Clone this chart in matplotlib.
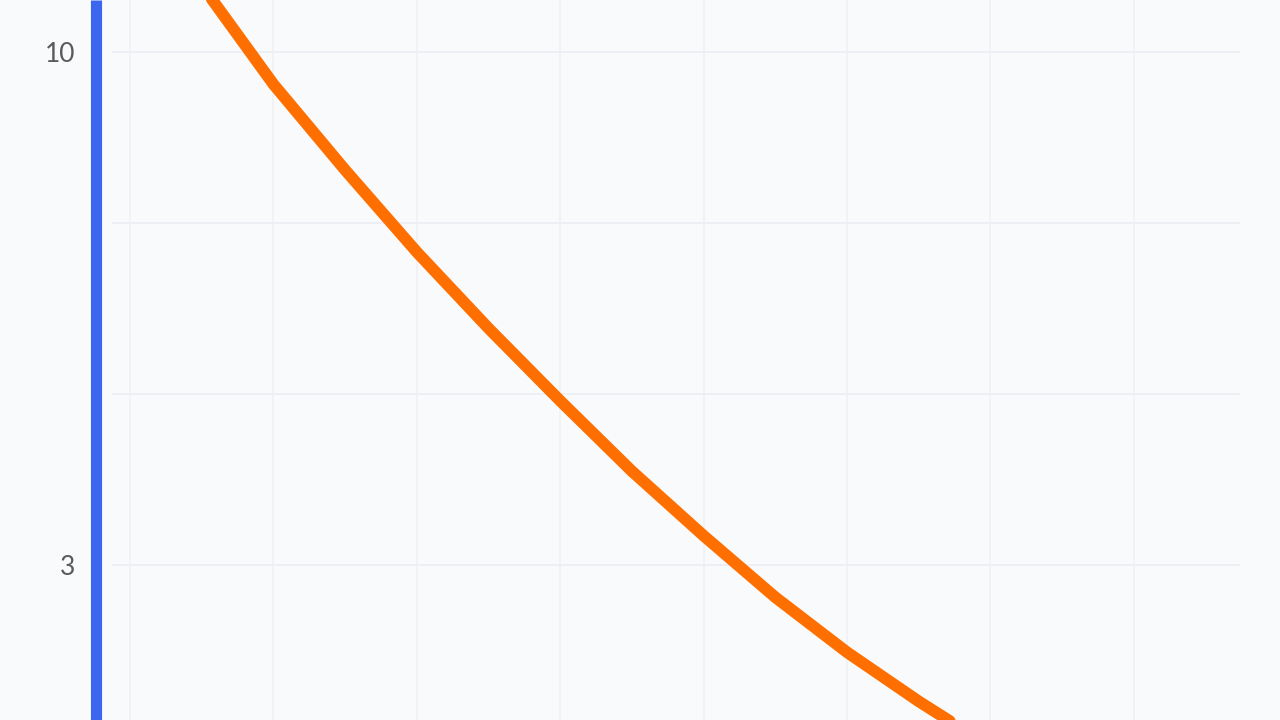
import matplotlib.pyplot as plt

# values (x = gridline index, y = value)
x_vals = [0, 0.5, 1, 1.5, 2, 2.5, 3, 3.5, 4, 4.5, 5, 5.5, 6]
y_vals = [12.48, 10.91, 9.56, 8.39, 7.27, 6.23, 5.24, 4.28, 3.40, 2.56, 1.81, 1.14, 0.52]

y_ticks = [3, 5.333, 7.667, 10]
y_labels = ["3", "", "", "10"]
x_ticks = [0, 1, 2, 3, 4, 5, 6, 7]

bg = "#F8FAFC"
orange = "#FF6F00"
blue = "#3D66EE"

plt.rcParams['font.family'] = ['Lato', 'DejaVu Sans']

fig = plt.figure(figsize=(12.8, 7.2), dpi=100, facecolor=bg)
ax = fig.add_axes([112 / 1280, 0, (1240 - 112) / 1280, 1])
ax.set_facecolor(bg)

ax.plot(x_vals, y_vals, color=orange, linewidth=8.4, solid_capstyle='round',
        solid_joinstyle='round', zorder=3)

ax.set_xlim(-0.126, 7.74)
ax.set_ylim(0.886, 10.71)

ax.set_yticks(y_ticks)
ax.set_yticklabels(y_labels)
ax.set_xticks(x_ticks)
ax.set_xticklabels([])
ax.grid(True, axis='y', color="#ECEFF3", linewidth=1.4)
ax.grid(True, axis='x', color="#F0F2F6", linewidth=1.4)
ax.set_axisbelow(True)

for side in ['top', 'right', 'bottom']:
    ax.spines[side].set_visible(False)
ax.spines['left'].set_position(('outward', 11.2))
ax.spines['left'].set_color(blue)
ax.spines['left'].set_linewidth(8)
ax.spines['left'].set_capstyle('butt')

ax.tick_params(axis='y', length=0, pad=15, labelsize=19, labelcolor='#5A5A5A')
ax.tick_params(axis='x', length=0)

fig.savefig('out.png', dpi=100, facecolor=bg)
